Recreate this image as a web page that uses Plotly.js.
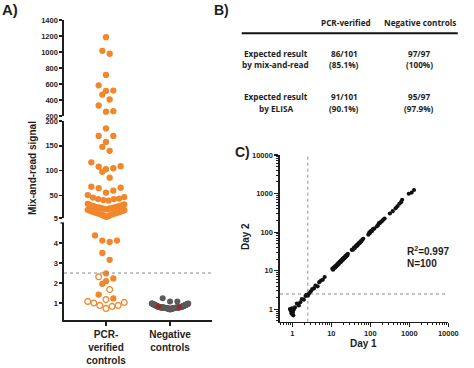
<!DOCTYPE html>
<html><head><meta charset="utf-8">
<script src="https://cdn.plot.ly/plotly-3.0.1.min.js"></script>
<style>html,body{margin:0;padding:0;background:#fff}#chart{width:474px;height:368px}</style>
</head><body><div id="chart"></div>
<script>
// ===== Panel A data =====
const categories = ["PCR-<br>verified<br>controls", "Negative<br>controls"];
const pcrFilled = [
  254, 260, 331, 406, 468, 514, 518, 584, 713, 978, 1015, 1185,
  185, 170, 170, 158, 148, 140, 117, 109, 108, 105, 103, 98, 86,
  68, 66, 65, 60, 56, 51, 47, 46, 44, 43, 43, 41, 40,
  7.3, 8.2, 9.4, 10.1, 11.0, 11.8, 12.3, 13.2, 13.9, 14.4, 15.0, 15.8, 16.3, 16.8,
  17.6, 18.1, 18.7, 19.2, 19.9, 20.6, 21.4,
  22.5, 22.9, 23.6, 24.0, 24.4, 24.9, 25.3, 25.7, 26.2, 26.6, 27.1, 27.5, 28.2, 28.6,
  29.3, 29.9, 30.6, 31.4, 32.2, 33.4,
  4.38, 4.12, 4.12, 4.05, 3.50, 3.16, 2.48, 2.23, 2.09, 1.96, 1.42, 1.23
];
const pcrOpen = [2.31, 1.67, 1.17, 1.08, 1.00, 0.88, 0.73, 0.83, 0.88, 1.03];
const negGray = [
  0.68, 0.69, 0.70, 0.70, 0.71, 0.71, 0.71, 0.72, 0.72, 0.72,
  0.72, 0.73, 0.73, 0.73, 0.73, 0.74, 0.74, 0.74, 0.74, 0.74,
  0.75, 0.75, 0.75, 0.75, 0.75, 0.75, 0.76, 0.76, 0.76, 0.76,
  0.76, 0.76, 0.76, 0.77, 0.77, 0.77, 0.77, 0.77, 0.77, 0.77,
  0.78, 0.78, 0.78, 0.78, 0.78, 0.78, 0.79, 0.79, 0.79, 0.79,
  0.79, 0.80, 0.80, 0.80, 0.80, 0.81, 0.81, 0.81, 0.82, 0.82,
  0.82, 0.83, 0.83, 0.84, 0.84, 0.85, 0.85, 0.86, 0.86, 0.87,
  0.87, 0.88, 0.88, 0.89, 0.89, 0.90, 0.90, 0.91, 0.91, 0.92,
  0.92, 0.93, 0.93, 0.94, 0.94, 0.95, 0.95, 0.96, 0.96, 0.97,
  0.97, 0.98, 1.08, 1.08, 1.24
];
const negRed = [0.815, 0.785];
const yTicksLow = [1, 2, 3, 4];
const yTicksMid = [5, 50, 100, 150, 200];
const yTicksTop = [200, 400, 600, 800, 1000, 1200, 1400];
const cutoffA = 2.5;

// ===== Panel B data =====
const tableHeader = ["PCR-verified", "Negative controls"];
const rowLabels = [["Expected result", "by mix-and-read"], ["Expected result", "by ELISA"]];
const cellPcr = [["86/101", "(85.1%)"], ["91/101", "(90.1%)"]];
const cellNeg = [["97/97", "(100%)"], ["95/97", "(97.9%)"]];

// ===== Panel C data =====
const day1 = [
  0.87, 0.91, 0.94, 0.98, 1.00, 1.01, 1.04, 1.06, 1.09, 1.17, 1.31,
  1.47, 1.60, 1.76, 1.97, 2.18, 2.33, 2.52, 2.69, 2.98, 3.24, 3.58, 3.92, 4.45, 4.90, 5.45, 6.05, 6.75,
  10.6, 11.1, 11.4, 12.1, 12.5, 12.8, 13.4, 13.7, 14.3, 14.6, 15.2, 15.5, 16.1, 16.6, 16.9, 17.5,
  17.8, 18.5, 18.8, 19.5, 19.9, 20.5, 21.0, 21.4, 22.1, 22.7, 23.1, 23.9, 24.3, 25.1, 25.7, 26.6,
  33.5, 35.8, 38.2, 40.1, 42.3, 44.6, 45.9, 48.2, 50.5, 52.8, 56.1, 58.7, 62.4, 65.8,
  89, 94, 98, 101, 105, 111, 117, 127,
  148, 158, 167, 179, 188, 204, 216, 233,
  318, 375, 445, 495, 555, 612, 655,
  970, 1150, 1320
];
const day2 = [
  1.02, 0.93, 0.80, 1.06, 0.96, 0.74, 0.86, 0.70, 0.99, 1.12, 1.42,
  1.26, 1.52, 1.83, 1.78, 2.22, 2.38, 2.27, 2.61, 2.94, 3.35, 3.49, 4.10, 3.95, 5.05, 5.60, 5.85, 6.90,
  11.2, 10.7, 12.0, 11.8, 13.1, 12.4, 13.9, 13.2, 14.8, 14.1, 15.9, 15.0, 16.4, 17.3, 16.5, 18.2,
  17.2, 19.1, 18.4, 20.3, 19.4, 21.2, 20.6, 22.0, 21.6, 23.5, 22.4, 24.6, 23.7, 26.0, 25.0, 27.5,
  34.8, 35.1, 39.6, 39.0, 43.8, 43.5, 47.6, 47.0, 52.3, 51.4, 57.9, 57.2, 64.1, 67.5,
  86, 97, 95, 104, 109, 107, 121, 124,
  142, 153, 171, 175, 186, 197, 212, 226,
  305, 350, 415, 470, 545, 600, 690,
  990, 1060, 1240
];
const cTicks = [1, 10, 100, 1000, 10000];
const cutoffC = 2.5;
const statLines = ["R<sup>2</sup>=0.997", "N=100"];

// ===== geometry (pixels) =====
const W = 474, H = 368;
const fx = p => p / W, fy = p => 1 - p / H;
const AX = {left: 64, right: 212, range: [-0.656, 1.656]};
const pxPerUnitX = (AX.right - AX.left) / (AX.range[1] - AX.range[0]);
const segs = [
  {axis: 'y',  range: [0.15, 5],   top: 223, bottom: 320},
  {axis: 'y2', range: [5, 200],    top: 121, bottom: 218},
  {axis: 'y3', range: [200, 1400], top: 20,  bottom: 116}
];
const segOf = v => v <= 5 ? 0 : (v <= 200 ? 1 : 2);
function pixY(v) {
  const s = segs[segOf(v)];
  return s.bottom - (v - s.range[0]) / (s.range[1] - s.range[0]) * (s.bottom - s.top);
}
// row-based dot-plot spreading (like GraphPad column scatter)
function spread(vals, T, S, Wmax) {
  const idx = vals.map((v, i) => i).sort((a, b) => vals[a] - vals[b] || a - b);
  const off = new Array(vals.length).fill(0);
  let i = 0;
  while (i < idx.length) {
    const y0 = pixY(vals[idx[i]]);
    let j = i;
    while (j < idx.length && y0 - pixY(vals[idx[j]]) < T) j++;
    const row = idx.slice(i, j), n = row.length;
    const s = n > 1 ? Math.min(S, Wmax / (n - 1)) : 0;
    row.forEach((k, r) => {
      let slot;
      if (n % 2 === 1) slot = r === 0 ? 0 : (r % 2 === 1 ? (r + 1) / 2 : -r / 2);
      else slot = r % 2 === 0 ? (r / 2 + 0.5) : -((r - 1) / 2 + 0.5);
      off[k] = slot * s / pxPerUnitX;
    });
    i = j;
  }
  return off;
}

const ORANGE = '#F2862B', GRAY = '#5b5b5b', RED = '#952a2a', INK = '#1e1e1e';
const traces = [];
function addGroup(vals, offs, center, markerFn, name) {
  segs.forEach((s, si) => {
    const xs = [], ys = [];
    vals.forEach((v, i) => { if (segOf(v) === si) { xs.push(center + offs[i]); ys.push(v); } });
    if (xs.length) traces.push({type: 'scatter', mode: 'markers', x: xs, y: ys, xaxis: 'x', yaxis: s.axis,
      marker: markerFn(), cliponaxis: false, hoverinfo: 'skip', showlegend: false, name: name});
  });
}
// PCR
const pcrAll = pcrFilled.concat(pcrOpen);
const pcrOff = spread(pcrAll, 7.2, 7.33, 36.5);
addGroup(pcrFilled, pcrOff.slice(0, pcrFilled.length), 0,
  () => ({color: ORANGE, size: 6.3, line: {width: 0}}), 'pcr');
addGroup(pcrOpen, pcrOff.slice(pcrFilled.length), 0,
  () => ({color: '#ffffff', size: 5.8, line: {color: ORANGE, width: 1.3}}), 'pcrOpen');
// Negative
const negAll = negGray.concat(negRed);
const negOff = spread(negAll, 7.2, 7.33, 36.5);
addGroup(negGray, negOff.slice(0, negGray.length), 1,
  () => ({color: GRAY, size: 6, line: {width: 0}}), 'neg');
addGroup(negRed, negOff.slice(negGray.length), 1,
  () => ({color: RED, size: 5.5, line: {width: 0}}), 'negRed');

// Panel C cutoff dotted lines, then scatter on top
const cMin = Math.pow(10, -0.32), cMax = 10000;
traces.push({type: 'scatter', mode: 'lines', x: [cutoffC, cutoffC], y: [cMin, cMax], xaxis: 'x2', yaxis: 'y4',
  line: {color: '#8a8a8a', width: 1, dash: 'dot'}, hoverinfo: 'skip', showlegend: false});
traces.push({type: 'scatter', mode: 'lines', x: [Math.pow(10, -0.316), cMax], y: [cutoffC, cutoffC], xaxis: 'x2', yaxis: 'y4',
  line: {color: '#8a8a8a', width: 1, dash: 'dot'}, hoverinfo: 'skip', showlegend: false});
traces.push({type: 'scatter', mode: 'markers', x: day1, y: day2, xaxis: 'x2', yaxis: 'y4',
  marker: {color: '#111', size: 4.2}, hoverinfo: 'skip', showlegend: false});

const FONT = 'Liberation Sans, Arial, sans-serif';
const tickFontA = {family: FONT, size: 7.5, color: INK, weight: 'bold'};
const baseY = {showline: true, linecolor: INK, linewidth: 1.6, ticks: 'outside', ticklen: 3, tickwidth: 1.3,
  tickcolor: INK, tickfont: tickFontA, showgrid: false, zeroline: false, fixedrange: true, anchor: 'x', tickmode: 'array'};

const minorVals = [];
[-1, 0, 1, 2, 3].forEach(d => { for (let k = 2; k <= 9; k++) minorVals.push(k * Math.pow(10, d)); });
const logAxis = (domain, range, anchor) => ({
  type: 'log', domain: domain, range: range, anchor: anchor, showline: true, linecolor: INK, linewidth: 1.6,
  ticks: 'outside', ticklen: 4, tickwidth: 1.3, tickcolor: INK, tickmode: 'array', tickvals: cTicks,
  ticktext: cTicks.map(String), tickfont: {family: FONT, size: 7.5, color: INK, weight: 'bold'},
  minor: {tickmode: 'array', tickvals: minorVals, ticks: 'outside', ticklen: 2, tickwidth: 1, tickcolor: INK, showgrid: false},
  showgrid: false, zeroline: false, fixedrange: true
});

const layout = {
  width: W, height: H, margin: {l: 0, r: 0, t: 0, b: 0}, paper_bgcolor: '#fff', plot_bgcolor: 'rgba(0,0,0,0)',
  showlegend: false, hovermode: false,
  xaxis: {domain: [fx(AX.left), fx(AX.right)], range: AX.range, anchor: 'y', showline: true, linecolor: INK,
    linewidth: 1.6, ticks: 'outside', ticklen: 4, tickwidth: 1.3, tickcolor: INK, tickmode: 'array',
    tickvals: [0, 1], ticktext: categories, tickfont: {family: FONT, size: 10, color: INK, weight: 'bold'},
    showgrid: false, zeroline: false, fixedrange: true},
  yaxis: Object.assign({}, baseY, {domain: [fy(segs[0].bottom), fy(segs[0].top)], range: segs[0].range,
    tickvals: yTicksLow, ticktext: yTicksLow.map(String)}),
  yaxis2: Object.assign({}, baseY, {domain: [fy(segs[1].bottom), fy(segs[1].top)], range: segs[1].range,
    tickvals: yTicksMid, ticktext: yTicksMid.map(String)}),
  yaxis3: Object.assign({}, baseY, {domain: [fy(segs[2].bottom), fy(segs[2].top)], range: segs[2].range,
    tickvals: yTicksTop, ticktext: yTicksTop.map(String)}),
  xaxis2: logAxis([fx(280), fx(448.3)], [-0.316, 4], 'y4'),
  yaxis4: logAxis([fy(321.7), fy(155)], [-0.32, 4], 'x2'),
  shapes: [
    {type: 'line', xref: 'x', yref: 'y', x0: AX.range[0], x1: AX.range[1], y0: cutoffA, y1: cutoffA,
      line: {color: '#8a8a8a', width: 1, dash: 'dot'}},
    {type: 'line', xref: 'paper', yref: 'paper', x0: fx(64), x1: fx(67), y0: fy(223), y1: fy(223),
      line: {color: INK, width: 1.3}},
    {type: 'line', xref: 'paper', yref: 'paper', x0: fx(241.7), x1: fx(457.7), y0: fy(33.3), y1: fy(33.3),
      line: {color: '#111', width: 2}}
  ],
  annotations: []
};
// small cap tick at the top of the lower axis segment (drawn outside the axis line)
layout.shapes[1].x0 = fx(60.5); layout.shapes[1].x1 = fx(64);

const ann = (text, x, y, o) => layout.annotations.push(Object.assign({text: text, xref: 'paper', yref: 'paper',
  x: fx(x), y: fy(y), showarrow: false, xanchor: 'center', yanchor: 'middle',
  font: {family: FONT, size: 10, color: INK, weight: 'bold'}}, o || {}));
// panel letters
ann('A)', 0, 9, {xanchor: 'left', font: {family: FONT, size: 15, color: INK, weight: 'bold'}});
ann('B)', 212, 10, {xanchor: 'left', font: {family: FONT, size: 14, color: INK, weight: 'bold'}});
ann('C)', 233, 152, {xanchor: 'left', font: {family: FONT, size: 14, color: INK, weight: 'bold'}});
// A y title
ann('Mix-and-read signal', 32, 168, {textangle: -90});
// B table
const tFont = {family: 'Open Sans, sans-serif', size: 8.2, color: INK, weight: 'bold'};
ann(tableHeader[0], 346, 22.7, {font: tFont});
ann(tableHeader[1], 420, 22.7, {font: tFont});
const rowY = [[53.3, 65], [96.7, 108.3]];
rowLabels.forEach((lines, r) => lines.forEach((t, k) => ann(t, 275.5, rowY[r][k], {font: tFont})));
cellPcr.forEach((lines, r) => lines.forEach((t, k) => ann(t, 344, rowY[r][k], {font: tFont})));
cellNeg.forEach((lines, r) => lines.forEach((t, k) => ann(t, 419, rowY[r][k], {font: tFont})));
// C titles and stats
ann('Day 1', 363, 343, {font: {family: FONT, size: 10, color: INK, weight: 'bold'}});
ann('Day 2', 245, 237, {textangle: -90, font: {family: FONT, size: 10, color: INK, weight: 'bold'}});
ann(statLines[0], 405, 250.7, {xanchor: 'left'});
ann(statLines[1], 405, 263.3, {xanchor: 'left'});

Plotly.newPlot('chart', traces, layout, {staticPlot: true, displayModeBar: false});
</script>
</body></html>
